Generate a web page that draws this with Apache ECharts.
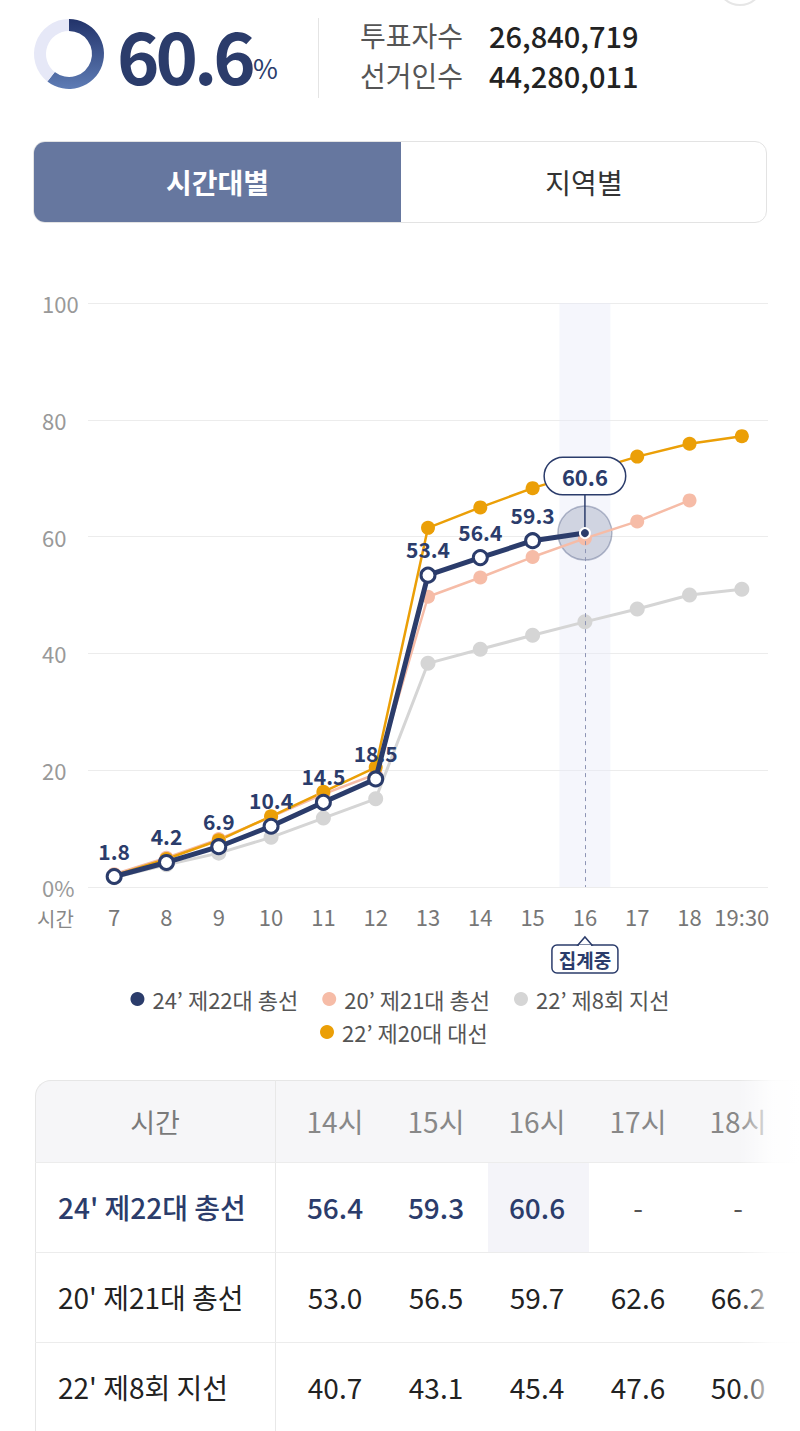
<!DOCTYPE html>
<html><head><meta charset="utf-8">
<script src="https://cdn.jsdelivr.net/npm/echarts@6/dist/echarts.min.js"></script>
<style>
html,body{margin:0;padding:0;width:800px;height:1431px;overflow:hidden;background:#fff;font-family:"Noto Sans CJK KR","Noto Sans",sans-serif;}
.abs{position:absolute;}
.flexc{display:flex;align-items:center;}
#chart{position:absolute;left:0;top:0;width:800px;height:1431px;z-index:2;}
</style></head><body>
<div id="page"></div>
<div id="chart"></div>
<script>
// ---------- data ----------
const categories = ['7','8','9','10','11','12','13','14','15','16','17','18','19:30'];
const seriesNames = ['24’ 제22대 총선','20’ 제21대 총선','22’ 제8회 지선','22’ 제20대 대선'];
const vote24  = [1.8,4.2,6.9,10.4,14.5,18.5,53.4,56.4,59.3,60.6,null,null,null];
const vote20  = [2.2,5.0,8.2,12.0,15.9,19.3,49.7,53.0,56.5,59.7,62.6,66.2,null];
const local22 = [1.6,3.8,5.8,8.5,11.8,15.1,38.3,40.7,43.1,45.4,47.6,50.0,51.0];
const pres22  = [2.0,4.8,8.0,12.1,16.3,20.5,61.5,65.0,68.3,71.0,73.7,75.9,77.2];
const yTicks = [0,20,40,60,80,100];
const totalRate = 60.6;
const voterCount = '26,840,719';
const electorCount = '44,280,011';
const tableHours = ['14','15','16','17','18'];
const tabs = ['시간대별','지역별'];

const navy = '#2b3c6b';
const colors = [navy,'#f6bca7','#d5d5d5','#eb9f07'];

// ---------- HTML parts (header, tabs, table) ----------
const page = document.getElementById('page');
function el(html){ page.insertAdjacentHTML('beforeend', html); }
el('<div class="abs" style="left:716px;top:-42px;width:44px;height:44px;border:2px solid #e6e6e6;border-radius:50%;"></div>');
el(`<div class="abs" style="left:117px;top:1px;font-size:72px;font-weight:700;color:${navy};letter-spacing:-4px;white-space:nowrap;">${totalRate.toFixed(1)}</div>`);
el(`<div class="abs" style="left:253px;top:54px;height:28px;line-height:28px;font-size:27px;font-weight:400;color:${navy};">%</div>`);
el('<div class="abs" style="left:318px;top:18px;width:1px;height:80px;background:#e4e4e4;"></div>');
el(`<div class="abs flexc" style="left:360px;top:17px;height:36px;font-size:28px;color:#555;">투표자수</div>`);
el(`<div class="abs flexc" style="left:489px;top:17px;height:36px;font-size:29px;font-weight:500;color:#222;">${voterCount}</div>`);
el(`<div class="abs flexc" style="left:360px;top:57px;height:36px;font-size:28px;color:#555;">선거인수</div>`);
el(`<div class="abs flexc" style="left:489px;top:57px;height:36px;font-size:29px;font-weight:500;color:#222;">${electorCount}</div>`);
// tabs
el(`<div class="abs" style="left:33px;top:141px;width:732px;height:80px;border:1px solid #e3e3e3;border-radius:12px;overflow:hidden;background:#fff;">
 <div class="abs flexc" style="left:0;top:0;width:367px;height:80px;background:#66779f;justify-content:center;color:#fff;font-size:28px;font-weight:700;">${tabs[0]}</div>
 <div class="abs flexc" style="left:368px;top:0;width:364px;height:80px;justify-content:center;color:#333;font-size:28px;">${tabs[1]}</div>
</div>`);
// table
const tableRows = [
  {name: seriesNames[0].replace('’',"'"), values: vote24, main:true},
  {name: seriesNames[1].replace('’',"'"), values: vote20},
  {name: seriesNames[2].replace('’',"'"), values: local22}
];
const colX = [335,436,537,638,738];
const curIdx = vote24.reduce((a,v,i)=> v!=null ? i : a, 0);
let t = '<div class="abs" style="left:35px;top:1080px;width:765px;height:351px;overflow:hidden;">';
t += '<div class="abs" style="left:0;top:0;width:800px;height:82px;background:#f6f6f8;border-top:1px solid #e6e6e6;border-left:1px solid #e6e6e6;border-top-left-radius:16px;box-sizing:border-box;"></div>';
t += '<div class="abs" style="left:0;top:16px;width:1px;height:360px;background:#e6e6e6;"></div>';
t += '<div class="abs" style="left:240px;top:0;width:1px;height:360px;background:#e8e8e8;"></div>';
[82,172,262].forEach(y=>{ t += `<div class="abs" style="left:0;top:${y}px;width:800px;height:1px;background:#ececec;"></div>`; });
t += '</div>';
el(t);
const hlPos = tableHours.indexOf(categories[curIdx]);
if (hlPos>=0) el(`<div class="abs" style="left:${colX[hlPos]-49}px;top:1163px;width:101px;height:89px;background:#f4f4f9;"></div>`);
el(`<div class="abs flexc" style="left:100px;width:110px;justify-content:center;top:1080px;height:82px;font-size:27px;color:#7a7a7a;">시간</div>`);
tableHours.forEach((h,i)=>{
  el(`<div class="abs flexc" style="left:${colX[i]-50}px;width:100px;justify-content:center;top:1080px;height:82px;font-size:28px;color:#888;">${h}시</div>`);
});
tableRows.forEach((r,ri)=>{
  const top = 1162 + ri*90;
  el(`<div class="abs flexc" style="left:58px;top:${top}px;height:${ri===2?69:90}px;${ri===2?'margin-top:10px;':''}font-size:28px;white-space:nowrap;color:${r.main?navy:'#222'};font-weight:${r.main?500:400};">${r.name}</div>`);
  tableHours.forEach((h,i)=>{
    const v = r.values[categories.indexOf(h)];
    const txt = v==null ? '-' : v.toFixed(1);
    el(`<div class="abs flexc" style="left:${colX[i]-50}px;width:100px;justify-content:center;top:${top}px;height:${ri===2?69:90}px;${ri===2?'margin-top:10px;':''}font-size:28px;color:${v==null?'#555':(r.main?navy:'#222')};font-weight:${r.main&&v!=null?500:400};">${txt}</div>`);
  });
});
el('<div class="abs" style="left:738px;top:1080px;width:62px;height:351px;background:linear-gradient(to right,rgba(255,255,255,0) 0%,rgba(255,255,255,0.85) 55%,#fff 100%);"></div>');

// ---------- ECharts ----------
const chart = echarts.init(document.getElementById('chart'), null, {renderer:'svg', width:800, height:1431});
const FONT = '"Noto Sans CJK KR","Noto Sans",sans-serif';

const navyData = vote24.map((v,i)=>{
  if (i!==curIdx) return v;
  return {
    value: v, symbolSize: 10,
    itemStyle: {color: navy, borderColor:'#fff', borderWidth:2},
    label: {
      show:true, position:'top', distance:33,
      formatter: (p)=> p.value.toFixed(1),
      backgroundColor:'#fff', borderColor:navy, borderWidth:1.5, borderRadius:18,
      padding:[7,17,7,17], fontSize:22, lineHeight:22, fontWeight:'bold', color:navy
    }
  };
});
const bandData = categories.map((c,i)=> i===curIdx ? yTicks[yTicks.length-1] : null);

const lineBase = (name, data, color, width, size) => ({
  name, type:'line', data, connectNulls:false,
  symbol:'circle', symbolSize:size, showAllSymbol:true,
  lineStyle:{color, width}, itemStyle:{color},
  emphasis:{disabled:true}, silent:true
});
const legendItem = (i)=> ({name: seriesNames[i], itemStyle:{color: colors[i], borderWidth:0}});
const legendText = {fontSize:22, color:'#555', fontFamily:FONT, padding:[0,0,0,3]};

const option = {
  animation:false,
  backgroundColor:'transparent',
  textStyle:{fontFamily:FONT},
  color: colors,
  grid:{left:88, right:32, top:303, height:584, containLabel:false},
  legend:[
    {data:[legendItem(0),legendItem(1),legendItem(2)], top:983, left:'center', icon:'circle', itemWidth:14, itemHeight:14, itemGap:24,
     textStyle:legendText, selectedMode:false},
    {data:[legendItem(3)], top:1016, left:315, icon:'circle', itemWidth:14, itemHeight:14,
     textStyle:legendText, selectedMode:false}
  ],
  xAxis:{type:'category', data:categories, boundaryGap:true,
    axisLine:{show:false}, axisTick:{show:false},
    axisLabel:{color:'#777', fontSize:22, margin:18, fontFamily:FONT, interval:0}},
  yAxis:{type:'value', min:yTicks[0], max:yTicks[yTicks.length-1], interval:yTicks[1]-yTicks[0],
    axisLine:{show:false}, axisTick:{show:false},
    splitLine:{lineStyle:{color:'#ececec', width:1}},
    axisLabel:{color:'#999', fontSize:22, align:'left', margin:46, fontFamily:FONT,
      formatter:(v)=> v===0 ? '0%' : String(v)}},
  series:[
    {type:'bar', data:bandData, barWidth:51, silent:true, z:1,
     itemStyle:{color:'rgba(232,234,248,0.45)'}, emphasis:{disabled:true}, legendHoverLink:false},
    {type:'pie', center:[69,54], radius:[23,35], startAngle:90, clockwise:true, silent:true,
     label:{show:false}, labelLine:{show:false}, emphasis:{disabled:true},
     data:[
       {name:'rate', value: totalRate, itemStyle:{color:new echarts.graphic.LinearGradient(0,0,0,1,[{offset:0,color:'#22336a'},{offset:1,color:'#5e7cb5'}])}},
       {name:'rest', value: 100-totalRate, itemStyle:{color:'#e6e8f7'}}
     ]},
    lineBase(seriesNames[2], local22, colors[2], 3, 15),
    lineBase(seriesNames[1], vote20, colors[1], 2.5, 14),
    lineBase(seriesNames[3], pres22, colors[3], 2.5, 14),
    Object.assign(lineBase(seriesNames[0], navyData, navy, 5, 14), {
      itemStyle:{color:'#fff', borderColor:navy, borderWidth:3},
      z:5,
      label:{show:true, position:'top', distance:7, fontSize:21, fontWeight:'bold', color:navy,
        formatter:(p)=> p.value==null ? '' : Number(p.value).toFixed(1)},
      markLine:{silent:true, symbol:['none','none'], label:{show:false},
        lineStyle:{type:[4,4], color:'#8e95b5', width:1},
        data:[[{coord:[categories[curIdx], vote24[curIdx]]},{coord:[categories[curIdx], yTicks[0]]}]]}
    })
  ]
};
chart.setOption(option);

const [px, py] = chart.convertToPixel({gridIndex:0}, [categories[curIdx], vote24[curIdx]]);
const [, axisY] = chart.convertToPixel({gridIndex:0}, [categories[curIdx], yTicks[0]]);
const tagTop = axisY + 58, tagH = 28, tagW = 66;
chart.setOption({
  graphic:{elements:[
    {type:'text', x:37, y:axisY+31, style:{text:'시간', fontSize:20, fill:'#888', fontFamily:FONT, verticalAlign:'middle'}},
    {type:'circle', shape:{cx:px, cy:py, r:27}, style:{fill:'rgba(43,60,107,0.18)', stroke:'rgba(43,60,107,0.32)', lineWidth:1.5}, z:3, silent:true},
    {type:'line', shape:{x1:px, y1:py-38, x2:px, y2:py-5}, style:{stroke:navy, lineWidth:1.5}, z:3, silent:true},
    {type:'rect', shape:{x:px-tagW/2, y:tagTop, width:tagW, height:tagH, r:5}, style:{fill:'#fff', stroke:navy, lineWidth:1.5}, z:10},
    {type:'polygon', shape:{points:[[px-7,tagTop],[px,tagTop-8],[px+7,tagTop]]}, style:{fill:'#fff', stroke:navy, lineWidth:1.5}, z:11},
    {type:'rect', shape:{x:px-6, y:tagTop-0.2, width:12, height:2.5}, style:{fill:'#fff'}, z:12},
    {type:'text', x:px, y:tagTop+tagH/2, style:{text:'집계중', fontSize:19, fontWeight:'bold', fill:navy, align:'center', verticalAlign:'middle', fontFamily:FONT}, z:13}
  ]}
});
</script>
</body></html>
